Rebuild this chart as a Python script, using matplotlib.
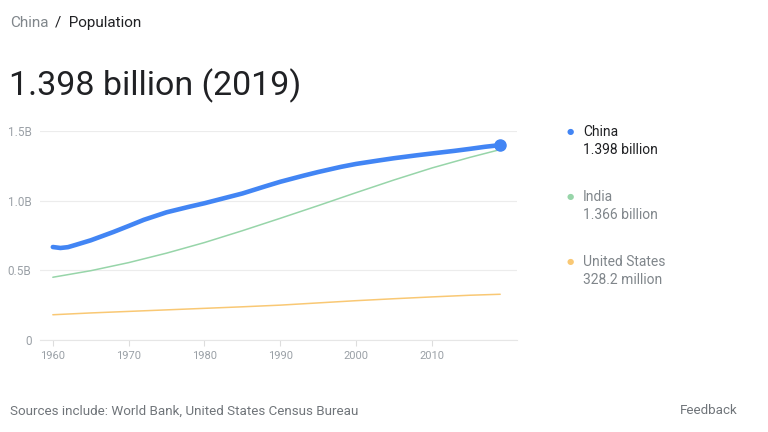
import matplotlib
matplotlib.use('Agg')
import matplotlib.pyplot as plt

plt.rcParams['font.family'] = ['Roboto', 'DejaVu Sans']

# population in billions
china_years = [1960, 1961, 1962, 1963, 1965, 1968, 1970, 1972, 1975, 1978, 1980, 1983,
               1985, 1988, 1990, 1993, 1995, 1998, 2000, 2003, 2005, 2008, 2010, 2013,
               2015, 2017, 2019]
china = [0.667, 0.660, 0.666, 0.682, 0.715, 0.775, 0.818, 0.862, 0.916, 0.956, 0.981, 1.023,
         1.051, 1.102, 1.135, 1.178, 1.205, 1.242, 1.263, 1.288, 1.304, 1.325, 1.338, 1.357,
         1.371, 1.386, 1.398]
years = [1960, 1965, 1970, 1975, 1980, 1985, 1990, 1995, 2000, 2005, 2010, 2015, 2019]
india = [0.450, 0.497, 0.555, 0.623, 0.699, 0.784, 0.873, 0.964, 1.057, 1.148, 1.234, 1.310, 1.366]
usa = [0.181, 0.194, 0.205, 0.216, 0.227, 0.238, 0.250, 0.266, 0.282, 0.296, 0.309, 0.321, 0.328]

x_ticks = [1960, 1970, 1980, 1990, 2000, 2010]
y_ticks = [0, 0.5, 1.0, 1.5]
y_labels = ['0', '0.5B', '1.0B', '1.5B']

legend_names = ['China', 'India', 'United States']
legend_values = ['1.398 billion', '1.366 billion', '328.2 million']

BLUE = '#4285f4'
GREEN = '#97d5a9'
ORANGE = '#f9c874'
DARK = '#202124'
GREY = '#70757a'
LIGHT = '#9aa0a6'

fig = plt.figure(figsize=(7.68, 4.32), dpi=100)
ax = fig.add_axes([0.052, 0.213, 0.621, 0.484])

ax.plot(years, usa, color=ORANGE, lw=1.1, solid_capstyle='round')
ax.plot(years, india, color=GREEN, lw=1.1, solid_capstyle='round')
ax.plot(china_years, china, color=BLUE, lw=3.3, solid_capstyle='round', solid_joinstyle='round')
ax.plot(china_years[-1], china[-1], 'o', color=BLUE, ms=8)

ax.set_xlim(1958.3, 2021.2)
ax.set_ylim(0, 1.5)
ax.set_xticks(x_ticks)
ax.set_yticks(y_ticks)
ax.set_yticklabels(y_labels)
ax.grid(axis='y', color='#ececec', lw=0.8)
ax.set_axisbelow(True)
for s in ['top', 'right', 'left']:
    ax.spines[s].set_visible(False)
ax.spines['bottom'].set_color('#e6e6e6')
ax.tick_params(axis='x', colors='#dddddd', labelcolor=LIGHT, labelsize=8, length=4, pad=4)
ax.tick_params(axis='y', length=0, labelcolor=LIGHT, labelsize=8.5, pad=6)

fig.text(10/768, 1-23/432, 'China', color='#80868b', fontsize=11, va='center')
fig.text(55/768, 1-23/432, '/  Population', color=DARK, fontsize=11, va='center')
fig.text(9/768, 1-86/432, '1.398 billion (2019)', color=DARK, fontsize=24.5, va='center')

name_colors = [DARK, '#80868b', '#80868b']
dot_colors = [BLUE, GREEN, ORANGE]
for i in range(3):
    y0 = 132 + 65*i
    fig.text(570/768, 1-y0/432, '\u25cf', color=dot_colors[i], fontsize=6, va='center', ha='center')
    fig.text(583/768, 1-y0/432, legend_names[i], color=name_colors[i], fontsize=10, va='center')
    fig.text(583/768, 1-(y0+18)/432, legend_values[i], color=name_colors[i], fontsize=10, va='center')

fig.text(10/768, 1-411/432, 'Sources include: World Bank, United States Census Bureau',
         color=GREY, fontsize=9.6, va='center')
fig.text(738/768, 1-411/432, 'Feedback', color=GREY, fontsize=9.6, va='center', ha='right')

fig.savefig('out.png', dpi=100, facecolor='white')
